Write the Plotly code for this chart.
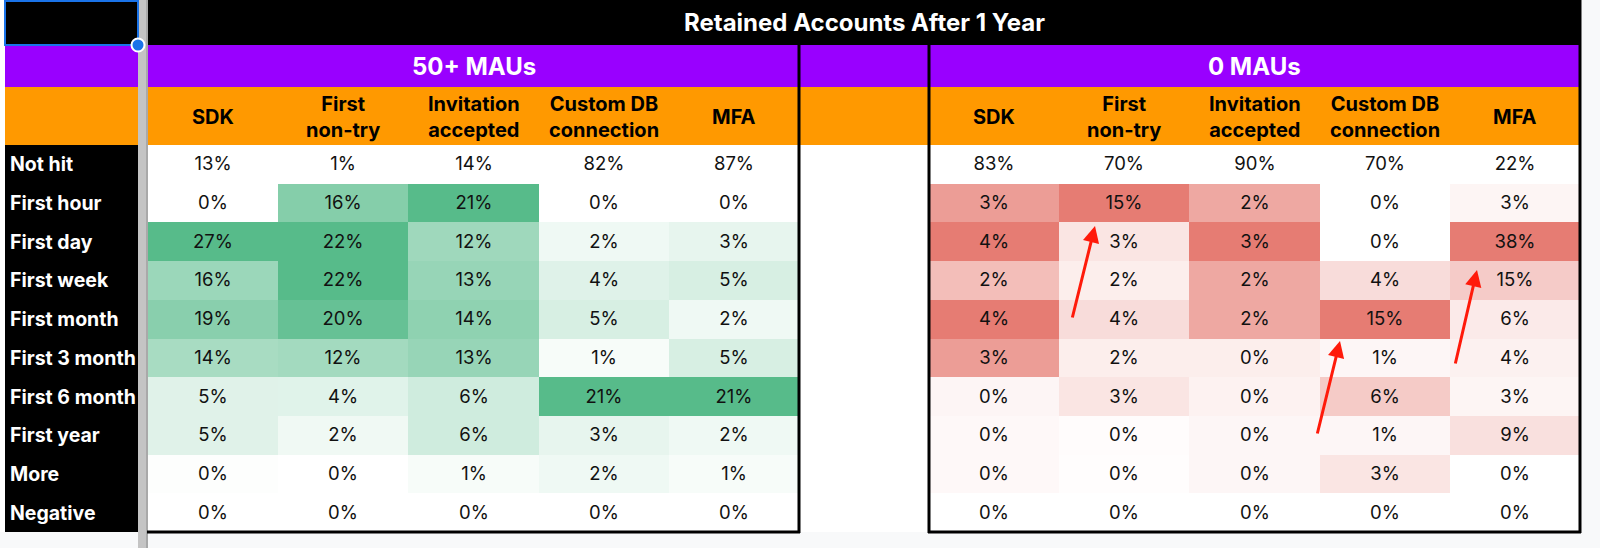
import numpy as np
import plotly.graph_objects as go

# ---------------- data ----------------
title_text = "Retained Accounts After 1 Year"
group_labels = ["50+ MAUs", "0 MAUs"]
columns = ["SDK", "First non-try", "Invitation accepted", "Custom DB connection", "MFA"]
column_headers = ["SDK", "First<br>non-try", "Invitation<br>accepted", "Custom DB<br>connection", "MFA"]
rows = ["Not hit", "First hour", "First day", "First week", "First month",
        "First 3 month", "First 6 month", "First year", "More", "Negative"]

# 50+ MAUs (percent), one list per column, in row order
mau50_sdk = [13, 0, 27, 16, 19, 14, 5, 5, 0.4, 0]
mau50_first_non_try = [1, 16, 22, 22, 20, 12, 4, 2, 0, 0]
mau50_invitation = [14, 21, 12, 13, 14, 13, 6, 6, 1, 0]
mau50_custom_db = [82, 0, 2, 4, 5, 1, 21, 3, 2, 0]
mau50_mfa = [87, 0, 3, 5, 2, 5, 21, 2, 1, 0]

# 0 MAUs (percent)
mau0_sdk = [83, 3, 4, 2, 4, 3, 0.3, 0.2, 0.2, 0]
mau0_first_non_try = [70, 15, 3, 2, 4, 2, 3, 0.3, 0.2, 0]
mau0_invitation = [90, 2, 3, 2, 2, 0.4, 0.3, 0.2, 0.2, 0]
mau0_custom_db = [70, 0, 0, 4, 15, 1, 6, 1, 3, 0]
mau0_mfa = [22, 3, 38, 15, 6, 4, 3, 9, 0, 0]

# ---------------- styling ----------------
W, H = 1600, 548
FONT = "Inter"
GREEN = "#57bb8a"
RED = "#e67c73"
PURPLE = "#9900ff"
ORANGE = "#ff9900"
GRAY_BG = "#f8f9fa"


def px(x):
    return x / W


def py(y):
    return 1 - y / H


def build(cols):
    vals = np.column_stack([np.asarray(c, dtype=float) for c in cols])
    colmax = vals[1:].max(axis=0)
    colmax[colmax == 0] = 1
    z = vals / colmax
    z[0, :] = 0  # "Not hit" row is not colour-scaled
    text = [[f"{v:.0f}%" for v in r] for r in vals]
    return z, text


z50, t50 = build([mau50_sdk, mau50_first_non_try, mau50_invitation, mau50_custom_db, mau50_mfa])
z0, t0 = build([mau0_sdk, mau0_first_non_try, mau0_invitation, mau0_custom_db, mau0_mfa])

fig = go.Figure()
fig.add_trace(go.Heatmap(
    z=z50, x=columns, y=rows, text=t50, texttemplate="%{text}",
    textfont=dict(family=FONT, size=18.5, color="#111111"),
    colorscale=[[0, "#ffffff"], [1, GREEN]], zmin=0, zmax=1,
    showscale=False, hoverinfo="skip", xaxis="x", yaxis="y"))
fig.add_trace(go.Heatmap(
    z=z0, x=columns, y=rows, text=t0, texttemplate="%{text}",
    textfont=dict(family=FONT, size=18.5, color="#111111"),
    colorscale=[[0, "#ffffff"], [1, RED]], zmin=0, zmax=1,
    showscale=False, hoverinfo="skip", xaxis="x2", yaxis="y"))

T1 = (148, 799)
T2 = (929, 1580)
TOP_DATA, BOT_DATA = 145, 532

axis_common = dict(showticklabels=False, showgrid=False, zeroline=False,
                   showline=False, ticks="", fixedrange=True,
                   categoryorder="array", categoryarray=columns)

shapes = []


def rect(x0, y0, x1, y1, fill, line_color=None, lw=0):
    shapes.append(dict(type="rect", xref="paper", yref="paper",
                       x0=px(x0), x1=px(x1), y0=py(y1), y1=py(y0),
                       fillcolor=fill,
                       line=dict(color=line_color or fill, width=lw)))


def line(x0, y0, x1, y1, color="#000000", lw=3):
    shapes.append(dict(type="line", xref="paper", yref="paper",
                       x0=px(x0), x1=px(x1), y0=py(y0), y1=py(y1),
                       line=dict(color=color, width=lw)))


# gray page areas
rect(0, BOT_DATA, W, H, GRAY_BG)
rect(1582, 0, W, H, GRAY_BG)
# left label column
rect(5, 0, 138, 45, "#000000")
rect(5, 45, 138, 87, PURPLE)
rect(5, 87, 138, 145, ORANGE)
rect(5, 145, 138, BOT_DATA, "#000000")
# frozen column separator
rect(138, 0, 146, H, "#c4c4c4")
line(147, 0, 147, H, "#8c8c8c", 1.5)
# title / group / header rows
rect(148, 0, 1580, 45, "#000000")
rect(148, 45, 1580, 87, PURPLE)
rect(148, 87, 1580, 145, ORANGE)
# borders
line(799, 44, 799, BOT_DATA + 1, lw=3)
line(929, 44, 929, BOT_DATA + 1, lw=3)
line(1580, 0, 1580, BOT_DATA + 1, lw=3)
line(147, BOT_DATA, 800, BOT_DATA, lw=3)
line(928, BOT_DATA, 1581, BOT_DATA, lw=3)
# selection box + handle
shapes.append(dict(type="rect", xref="paper", yref="paper",
                   x0=px(5), x1=px(138), y0=py(45), y1=py(1),
                   fillcolor="rgba(0,0,0,0)", line=dict(color="#1a73e8", width=2)))
shapes.append(dict(type="circle", xref="paper", yref="paper",
                   x0=px(131.5), x1=px(144.5), y0=py(51.5), y1=py(38.5),
                   fillcolor="#1a73e8", line=dict(color="#ffffff", width=2)))

annotations = []
annotations.append(dict(text=f"<b>{title_text}</b>", xref="paper", yref="paper",
                        x=px((148 + 1580) / 2), y=py(22), showarrow=False,
                        xanchor="center", yanchor="middle",
                        font=dict(family=FONT, size=24, color="#ffffff")))
for lab, (a, b) in zip(group_labels, [T1, T2]):
    annotations.append(dict(text=f"<b>{lab}</b>", xref="paper", yref="paper",
                            x=px((a + b) / 2), y=py(66), showarrow=False,
                            xanchor="center", yanchor="middle",
                            font=dict(family=FONT, size=24, color="#ffffff")))
for xr in ["x", "x2"]:
    for c, h in zip(columns, column_headers):
        annotations.append(dict(text=f"<b>{h}</b>", xref=xr, yref="paper",
                                x=c, y=py(117), showarrow=False,
                                xanchor="center", yanchor="middle",
                                font=dict(family=FONT, size=20, color="#000000")))
for r in rows:
    annotations.append(dict(text=f"<b>{r}</b>", xref="paper", yref="y",
                            x=px(8), y=r, xanchor="left", yanchor="middle",
                            showarrow=False,
                            font=dict(family=FONT, size=19.5, color="#ffffff")))

# red hand-drawn arrows (tip position, tail offset)
for (tx, ty, dx, dy) in [(1095, 226, -23, 93), (1340, 341, -23, 94), (1477, 270, -22, 95)]:
    annotations.append(dict(text="", xref="paper", yref="paper",
                            x=px(tx), y=py(ty), ax=dx, ay=dy,
                            showarrow=True, arrowhead=2, arrowsize=1.1,
                            arrowwidth=3, arrowcolor="#ff1a0a", standoff=0))

fig.update_layout(
    width=W, height=H, margin=dict(l=0, r=0, t=0, b=0),
    paper_bgcolor="#ffffff", plot_bgcolor="#ffffff",
    xaxis=dict(domain=[px(T1[0]), px(T1[1])], anchor="y", **axis_common),
    xaxis2=dict(domain=[px(T2[0]), px(T2[1])], anchor="y", **axis_common),
    yaxis=dict(domain=[py(BOT_DATA), py(TOP_DATA)], autorange="reversed",
               showticklabels=False, showgrid=False, zeroline=False,
               ticks="", fixedrange=True,
               categoryorder="array", categoryarray=rows),
    shapes=shapes, annotations=annotations, showlegend=False,
    font=dict(family=FONT),
)

fig.write_html("out.html", config={"displayModeBar": False},
               post_script="document.body.style.margin='0';document.body.style.overflow='hidden';")
